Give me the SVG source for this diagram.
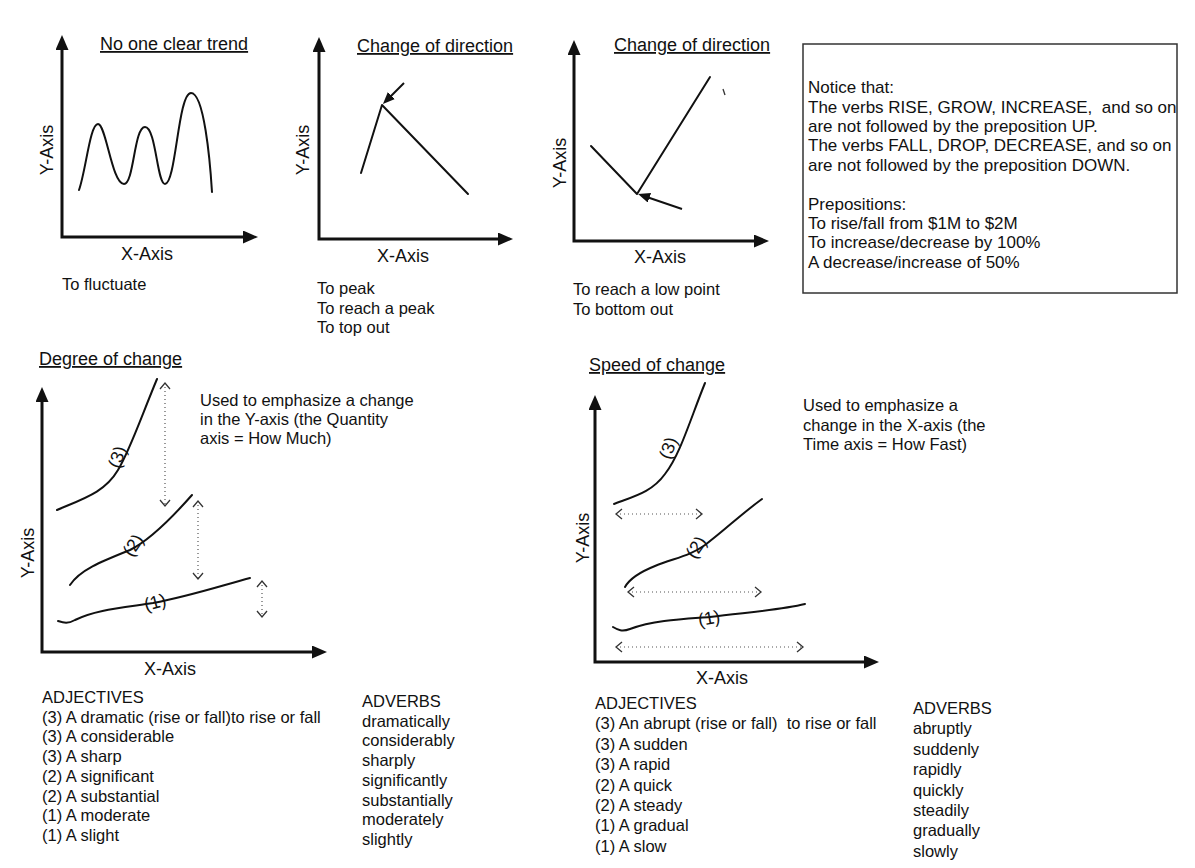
<svg xmlns="http://www.w3.org/2000/svg" width="1195" height="868" viewBox="0 0 1195 868">
<style>
text{font-family:"Liberation Sans",Arial,sans-serif;fill:#111}
.b{font-size:16.5px}
.n{font-size:17px}
.h{font-size:18px;text-decoration:underline}
.ax{font-size:18px}
.lb{font-size:18px}
.axis{fill:none;stroke:#111;stroke-width:3;marker-start:url(#ah);marker-end:url(#ah)}
.crv{fill:none;stroke:#111;stroke-width:2;stroke-linecap:round;stroke-linejoin:round}
.ptr{fill:none;stroke:#111;stroke-width:2;marker-end:url(#sa)}
.dot{fill:none;stroke:#555;stroke-width:1.2;stroke-dasharray:1 3;marker-start:url(#cv);marker-end:url(#cv)}
.box{fill:none;stroke:#333;stroke-width:1.5}
</style>
<defs>
<marker id="ah" markerUnits="userSpaceOnUse" markerWidth="16" markerHeight="13" refX="2" refY="6.5" orient="auto-start-reverse"><path d="M0,0 L15,6.5 L0,13 Z" fill="#111"/></marker>
<marker id="sa" markerUnits="userSpaceOnUse" markerWidth="13" markerHeight="10" refX="2" refY="5" orient="auto"><path d="M0,0 L12,5 L0,10 Z" fill="#111"/></marker>
<marker id="cv" markerUnits="userSpaceOnUse" markerWidth="9" markerHeight="12" refX="7" refY="6" orient="auto-start-reverse"><path d="M1,1 L7,6 L1,11" fill="none" stroke="#333" stroke-width="1.3"/></marker>
</defs>
<rect width="1195" height="868" fill="#fff"/>

<g id="graph-fluctuate">
<path class="axis" d="M62,48 V237 H245"/>
<path class="crv" d="M79,190 C86,170 90,124 98,124 C106,124 112,184 124,184 C134,184 134,127 145,127 C156,127 157,184 165,184 C176,184 178,93 191,93 C204,93 210,160 212,192"/>
<text class="h" x="100" y="50">No one clear trend</text>
<text class="ax" transform="translate(47,150) rotate(-90)" text-anchor="middle" dy="0.35em">Y-Axis</text>
<text class="ax" x="147" y="260" text-anchor="middle">X-Axis</text>
<text class="b" x="62" y="290">To fluctuate</text>
</g>

<g id="graph-peak">
<path class="axis" d="M319,50 V239 H500"/>
<path class="crv" d="M361,173 L382,105 L468,194"/>
<line class="ptr" x1="404" y1="83" x2="390" y2="97"/>
<text class="h" x="357" y="52">Change of direction</text>
<text class="ax" transform="translate(303,150) rotate(-90)" text-anchor="middle" dy="0.35em">Y-Axis</text>
<text class="ax" x="403" y="262" text-anchor="middle">X-Axis</text>
<text class="b" x="317" y="294">To peak</text>
<text class="b" x="317" y="314">To reach a peak</text>
<text class="b" x="317" y="333">To top out</text>
</g>

<g id="graph-low">
<path class="axis" d="M574,53 V241 H756"/>
<path class="crv" d="M591,146 L637,194 L710,77"/>
<line class="ptr" x1="682" y1="209" x2="647.5" y2="197.2"/>
<line x1="723" y1="89" x2="725" y2="95" stroke="#333" stroke-width="1.3"/>
<text class="h" x="614" y="51">Change of direction</text>
<text class="ax" transform="translate(560,163) rotate(-90)" text-anchor="middle" dy="0.35em">Y-Axis</text>
<text class="ax" x="660" y="263" text-anchor="middle">X-Axis</text>
<text class="b" x="573" y="295">To reach a low point</text>
<text class="b" x="573" y="315">To bottom out</text>
</g>

<g id="notice-box">
<rect class="box" x="803" y="44" width="374" height="249"/>
<text class="n" x="808" y="93">Notice that:</text>
<text class="n" x="808" y="112.5" xml:space="preserve">The verbs RISE, GROW, INCREASE,  and so on</text>
<text class="n" x="808" y="132">are not followed by the preposition UP.</text>
<text class="n" x="808" y="151">The verbs FALL, DROP, DECREASE, and so on</text>
<text class="n" x="808" y="170.5">are not followed by the preposition DOWN.</text>
<text class="n" x="808" y="209.5">Prepositions:</text>
<text class="n" x="808" y="229">To rise/fall from $1M to $2M</text>
<text class="n" x="808" y="248">To increase/decrease by 100%</text>
<text class="n" x="808" y="267.5">A decrease/increase of 50%</text>
</g>

<g id="graph-degree">
<path class="axis" d="M42,400 V652 H314"/>
<path class="crv" d="M57,510 C85,498 105,492 118,470 C130,450 140,420 157,379"/>
<path class="crv" d="M70,585 C80,570 100,562 130,550 C150,540 170,520 192,495"/>
<path class="crv" d="M58,621 C64,623 68,624 75,620 C95,610 120,608 153,603 C190,596 220,586 250,578"/>
<line class="dot" x1="165" y1="383" x2="165" y2="506"/>
<line class="dot" x1="198" y1="501" x2="198" y2="579"/>
<line class="dot" x1="262" y1="581" x2="262" y2="617"/>
<text class="lb" transform="translate(117,457) rotate(-70)" text-anchor="middle" dy="0.35em">(3)</text>
<text class="lb" transform="translate(133,545) rotate(-55)" text-anchor="middle" dy="0.35em">(2)</text>
<text class="lb" transform="translate(155,602) rotate(-15)" text-anchor="middle" dy="0.35em">(1)</text>
<text class="h" x="39" y="365">Degree of change</text>
<text class="ax" transform="translate(28,553) rotate(-90)" text-anchor="middle" dy="0.35em">Y-Axis</text>
<text class="ax" x="170" y="675" text-anchor="middle">X-Axis</text>
<text class="b" x="200" y="406">Used to emphasize a change</text>
<text class="b" x="200" y="425">in the Y-axis (the Quantity</text>
<text class="b" x="200" y="444">axis = How Much)</text>
</g>

<g id="graph-speed">
<path class="axis" d="M595,408 V662 H866"/>
<path class="crv" d="M614,504 C635,496 652,492 665,474 C680,455 690,420 705,383"/>
<path class="crv" d="M625,587 C630,578 640,572 655,566 C675,558 690,556 705,545 C725,530 740,515 762,499"/>
<path class="crv" d="M613,627 C618,630 622,632 630,629 C655,620 685,619 710,617 C750,612 780,610 805,604"/>
<line class="dot" x1="616" y1="514" x2="702" y2="514"/>
<line class="dot" x1="628" y1="592" x2="761" y2="592"/>
<line class="dot" x1="616" y1="647" x2="803" y2="647"/>
<text class="lb" transform="translate(668,448) rotate(-70)" text-anchor="middle" dy="0.35em">(3)</text>
<text class="lb" transform="translate(696,547) rotate(-55)" text-anchor="middle" dy="0.35em">(2)</text>
<text class="lb" transform="translate(709,618) rotate(-10)" text-anchor="middle" dy="0.35em">(1)</text>
<text class="h" x="589" y="371">Speed of change</text>
<text class="ax" transform="translate(583,538) rotate(-90)" text-anchor="middle" dy="0.35em">Y-Axis</text>
<text class="ax" x="722" y="684" text-anchor="middle">X-Axis</text>
<text class="b" x="803" y="411">Used to emphasize a</text>
<text class="b" x="803" y="431">change in the X-axis (the</text>
<text class="b" x="803" y="450">Time axis = How Fast)</text>
</g>

<g id="degree-words">
<text class="b" x="42" y="703">ADJECTIVES</text>
<text class="b" x="42" y="722.7">(3) A dramatic (rise or fall)to rise or fall</text>
<text class="b" x="42" y="742.4">(3) A considerable</text>
<text class="b" x="42" y="762.1">(3) A sharp</text>
<text class="b" x="42" y="781.8">(2) A significant</text>
<text class="b" x="42" y="801.5">(2) A substantial</text>
<text class="b" x="42" y="821.2">(1) A moderate</text>
<text class="b" x="42" y="840.9">(1) A slight</text>
<text class="b" x="362" y="707">ADVERBS</text>
<text class="b" x="362" y="726.7">dramatically</text>
<text class="b" x="362" y="746.4">considerably</text>
<text class="b" x="362" y="766.1">sharply</text>
<text class="b" x="362" y="785.8">significantly</text>
<text class="b" x="362" y="805.5">substantially</text>
<text class="b" x="362" y="825.2">moderately</text>
<text class="b" x="362" y="844.9">slightly</text>
</g>

<g id="speed-words">
<text class="b" x="595" y="709">ADJECTIVES</text>
<text class="b" x="595" y="729.4" xml:space="preserve">(3) An abrupt (rise or fall)  to rise or fall</text>
<text class="b" x="595" y="749.8">(3) A sudden</text>
<text class="b" x="595" y="770.2">(3) A rapid</text>
<text class="b" x="595" y="790.6">(2) A quick</text>
<text class="b" x="595" y="811">(2) A steady</text>
<text class="b" x="595" y="831.4">(1) A gradual</text>
<text class="b" x="595" y="851.8">(1) A slow</text>
<text class="b" x="913" y="714">ADVERBS</text>
<text class="b" x="913" y="734.4">abruptly</text>
<text class="b" x="913" y="754.8">suddenly</text>
<text class="b" x="913" y="775.2">rapidly</text>
<text class="b" x="913" y="795.6">quickly</text>
<text class="b" x="913" y="816">steadily</text>
<text class="b" x="913" y="836.4">gradually</text>
<text class="b" x="913" y="856.8">slowly</text>
</g>
</svg>
